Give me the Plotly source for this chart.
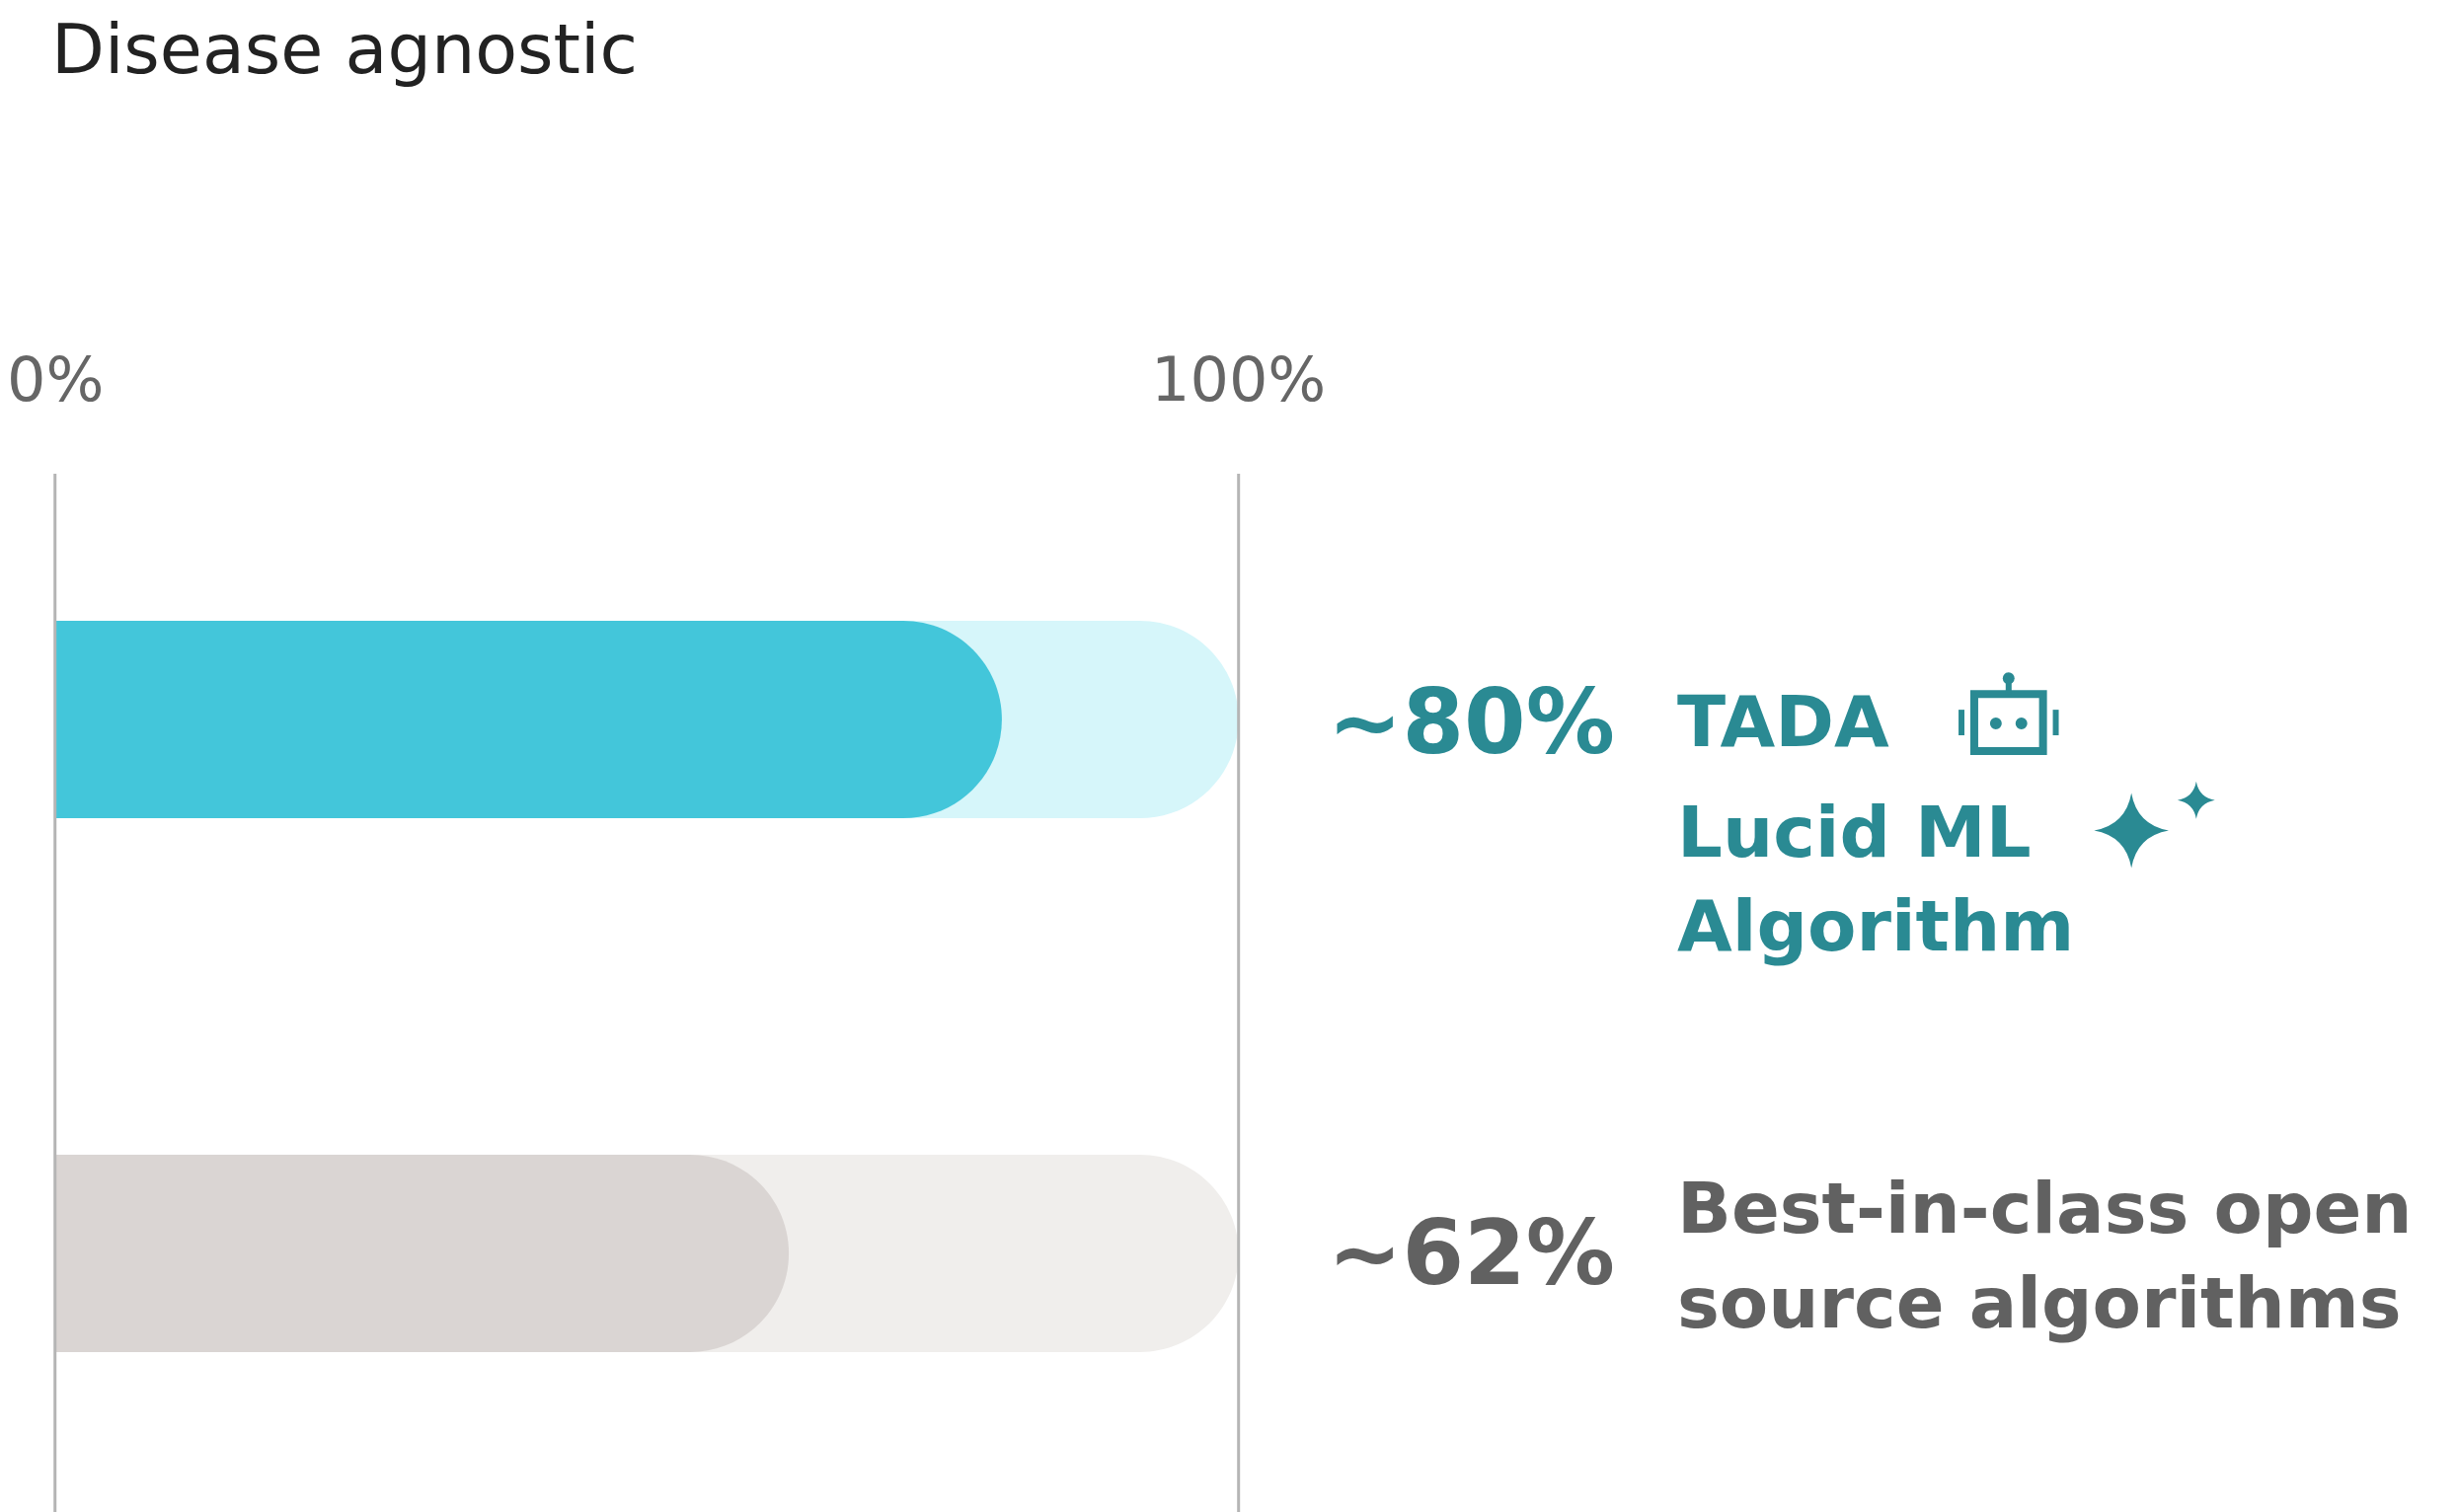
import plotly.graph_objects as go

categories = ["TADA Lucid ML Algorithm", "Best-in-class open source algorithms"]
values = [80, 62]
value_labels = ["~80%", "~62%"]
tick_labels = ["0%", "100%"]
tick_vals = [0, 100]

W, H = 2490, 1532
def TX(p): return p * 0.995 - 6
def TY(p): return p * 0.996 - 8

X0PX, X100PX = TX(54), TX(1259)
U = (X100PX - X0PX) / 100.0
def xd(px): return (TX(px) - X0PX) / U

fig = go.Figure()
fig.add_trace(go.Scatter(x=[0, 100], y=[0, 0], mode="markers", marker=dict(opacity=0), hoverinfo="skip", showlegend=False))

rows = [(TY(732), "#43c6da", "#d6f6fa"), (TY(1275), "#dad5d3", "#f0eeec")]
half = 100
rx = half / U
k = 0.5523

def bar_path(x1, yc):
    yt, yb = yc - half, yc + half
    xs = x1 - rx
    return (f"M 0,{yt} L {xs},{yt} C {xs + k*rx},{yt} {x1},{yc - k*half} {x1},{yc} "
            f"C {x1},{yc + k*half} {xs + k*rx},{yb} {xs},{yb} L 0,{yb} Z")

for (yc, c_fg, c_bg), v in zip(rows, values):
    fig.add_shape(type="path", path=bar_path(100, yc), fillcolor=c_bg, line_width=0, layer="below")
    fig.add_shape(type="path", path=bar_path(v, yc), fillcolor=c_fg, line_width=0, layer="below")

LF = "DejaVu Sans"
for tv, tl in zip(tick_vals, tick_labels):
    fig.add_shape(type="line", x0=tv, x1=tv, y0=TY(482), y1=1540, line=dict(color="#b5b5b5", width=3))
    fig.add_annotation(x=tv, y=TY(386), text=tl, showarrow=False, font=dict(family=LF, size=62, color="#666666"))

FONT = "DejaVu Sans"
teal, gray = "#2a8a93", "#616161"
fig.add_annotation(x=xd(1348), y=TY(734), text=f"<b>{value_labels[0]}</b>", xanchor="left", showarrow=False, font=dict(family=FONT, size=90, color=teal))
fig.add_annotation(x=xd(1348), y=TY(1275), text=f"<b>{value_labels[1]}</b>", xanchor="left", showarrow=False, font=dict(family=FONT, size=90, color=gray))
for txt, y in [("TADA", 734), ("Lucid ML", 846), ("Algorithm", 942)]:
    fig.add_annotation(x=xd(1704), y=TY(y), text=f"<b>{txt}</b>", xanchor="left", showarrow=False, font=dict(family=FONT, size=72, color=teal))
for txt, y in [("Best-in-class open", 1229), ("source algorithms", 1325)]:
    fig.add_annotation(x=xd(1704), y=TY(y), text=f"<b>{txt}</b>", xanchor="left", showarrow=False, font=dict(family=FONT, size=72, color=gray))

fig.add_annotation(x=xd(48), y=TY(50), text="Disease agnostic", xanchor="left", showarrow=False, font=dict(family=LF, size=70, color="#222222"))

# robot icon
fig.add_shape(type="rect", x0=xd(2008), x1=xd(2078), y0=TY(706), y1=TY(764), line=dict(color=teal, width=8), fillcolor="rgba(0,0,0,0)")
fig.add_shape(type="rect", x0=xd(1992), x1=xd(1998), y0=TY(722), y1=TY(748), fillcolor=teal, line_width=0)
fig.add_shape(type="rect", x0=xd(2088), x1=xd(2094), y0=TY(722), y1=TY(748), fillcolor=teal, line_width=0)
fig.add_shape(type="line", x0=xd(2043), x1=xd(2043), y0=TY(692), y1=TY(706), line=dict(color=teal, width=6))
fig.add_shape(type="circle", x0=xd(2037), x1=xd(2049), y0=TY(684), y1=TY(696), fillcolor=teal, line_width=0)
for cx in (2030, 2056):
    fig.add_shape(type="circle", x0=xd(cx-6), x1=xd(cx+6), y0=TY(730), y1=TY(742), fillcolor=teal, line_width=0)

def sparkle(cx, cy, r):
    q = r * 0.15
    cy = TY(cy)
    return (f"M {xd(cx)},{cy-r} Q {xd(cx+q)},{cy-q} {xd(cx+r)},{cy} Q {xd(cx+q)},{cy+q} {xd(cx)},{cy+r} "
            f"Q {xd(cx-q)},{cy+q} {xd(cx-r)},{cy} Q {xd(cx-q)},{cy-q} {xd(cx)},{cy-r} Z")
fig.add_shape(type="path", path=sparkle(2168, 845, 38), fillcolor=teal, line_width=0)
fig.add_shape(type="path", path=sparkle(2234, 814, 19), fillcolor=teal, line_width=0)

fig.update_layout(width=W, height=H, margin=dict(l=0, r=0, t=0, b=0),
                  plot_bgcolor="white", paper_bgcolor="white",
                  xaxis=dict(range=[(0 - X0PX) / U, (W - X0PX) / U], visible=False),
                  yaxis=dict(range=[H, 0], visible=False))
fig.write_html("out.html")
